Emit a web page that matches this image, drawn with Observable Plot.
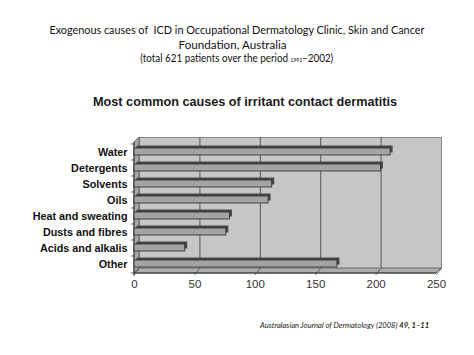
<!DOCTYPE html>
<html><head><meta charset="utf-8">
<script src="https://cdn.jsdelivr.net/npm/d3@7"></script>
<script src="https://cdn.jsdelivr.net/npm/@observablehq/plot@0.6"></script>
<style>
html,body{margin:0;padding:0;background:#fff;}
#wrap{position:relative;width:474px;height:355px;overflow:hidden;background:#fff;}
.t{position:absolute;white-space:nowrap;line-height:1;color:#111;transform-origin:50% 50%;}
#chart{position:absolute;left:0;top:120px;}
</style></head><body>
<div id="wrap">
  <div class="t fit" data-cx="237" data-cy="30" data-w="375" data-fs="12.2" style="font-family:Lato,'Open Sans',sans-serif;">Exogenous causes of&nbsp; ICD in Occupational Dermatology Clinic, Skin and Cancer</div>
  <div class="t fit" data-cx="233" data-cy="45.5" data-w="108" data-fs="12.2" style="font-family:Lato,'Open Sans',sans-serif;">Foundation, Australia</div>
  <div class="t fit" data-cx="236.5" data-cy="58" data-w="193" data-fs="10.6" style="font-family:Lato,'Open Sans',sans-serif;">(total 621 patients over the period <span style="font-size:0.5em">1993</span>–2002)</div>
  <div class="t fit" data-cx="245" data-cy="101" data-w="304" data-fs="13" style="font-family:'Liberation Sans',Arial,sans-serif;font-weight:bold;color:#1a1a1a;">Most common causes of irritant contact dermatitis</div>
  <div id="chart"></div>
  <div class="t fit" data-cx="344.5" data-cy="325.5" data-w="169" data-fs="7.6" style="font-family:Lato,'Open Sans',sans-serif;font-style:italic;color:#222;">Australasian Journal of Dermatology (2008) <b>49, 1–11</b></div>
</div>
<script>
const categories = ["Water", "Detergents", "Solvents", "Oils", "Heat and sweating", "Dusts and fibres", "Acids and alkalis", "Other"];
const counts = [212, 204, 114, 111, 79, 76, 42, 168];
const xTicks = [0, 50, 100, 150, 200, 250];
const gridValues = [50, 100, 150, 200];

const data = categories.map((c, i) => ({cause: c, count: counts[i]}));

function walls(index, scales, values, dim) {
  const x0 = scales.x(0), x1 = scales.x(250);
  const top = dim.marginTop, bot = dim.height - dim.marginBottom;
  const g = d3.create("svg:g");
  g.append("path")
    .attr("d", `M${x0},${top}L${x0 + 5},${top - 5}L${x0 + 5},${bot - 5}L${x0},${bot}Z`)
    .attr("fill", "#a8a8a8").attr("stroke", "#555").attr("stroke-width", 0.8);
  g.append("path")
    .attr("d", `M${x0},${bot}L${x1},${bot}L${x1 + 5},${bot - 5}L${x0 + 5},${bot - 5}Z`)
    .attr("fill", "#acacac").attr("stroke", "#555").attr("stroke-width", 0.8);
  g.append("line").attr("x1", x0).attr("x2", x1).attr("y1", bot).attr("y2", bot)
    .attr("stroke", "#333").attr("stroke-width", 1);
  g.append("line").attr("x1", x0).attr("x2", x0).attr("y1", top).attr("y2", bot + 3)
    .attr("stroke", "#333").attr("stroke-width", 1);
  xTicks.forEach(v => {
    const x = scales.x(v);
    g.append("line").attr("x1", x).attr("y1", bot + 2).attr("x2", x + 5).attr("y2", bot - 4)
      .attr("stroke", "#444").attr("stroke-width", 0.8);
  });
  const bounds = categories.map(c => scales.y(c)).concat([bot]);
  bounds.forEach(y => {
    g.append("line").attr("x1", x0 - 3).attr("x2", x0).attr("y1", y).attr("y2", y)
      .attr("stroke", "#333").attr("stroke-width", 0.8);
  });
  return g.node();
}

const chart = Plot.plot({
  width: 474,
  height: 180,
  marginTop: 22,
  marginBottom: 27,
  marginLeft: 134,
  marginRight: 38,
  style: {background: "transparent", overflow: "visible", fontFamily: "'Liberation Sans', Arial, sans-serif"},
  x: {domain: [0, 250], ticks: xTicks, tickSize: 0, tickPadding: 6, label: null},
  y: {domain: categories, padding: 0, tickSize: 0, tickPadding: 7, label: null},
  marks: [
    Plot.frame({fill: "#c6c6c6", stroke: "#8a8a8a", dx: 5, dy: -5}),
    walls,
    Plot.ruleX(gridValues, {dx: 5, dy: -5, stroke: "#555", strokeWidth: 1}),
    Plot.barX(data, {x: "count", y: "cause", dx: 2.5, dy: -2.5, fill: "#474747", insetTop: 4, insetBottom: 5}),
    Plot.barX(data, {x: "count", y: "cause", fill: "#a3a3a3", stroke: "#2a2a2a", strokeWidth: 0.8, insetTop: 4, insetBottom: 5})
  ]
});
document.getElementById("chart").appendChild(chart);

const svg = d3.select(chart);
svg.selectAll('g[aria-label^="x-axis"] text')
  .attr("font-size", 11.5).attr("fill", "#333").style("font-size", "11.5px");
svg.selectAll('g[aria-label^="y-axis"] text')
  .attr("font-size", 10.8).attr("font-weight", "bold").attr("fill", "#111")
  .style("font-size", "10.8px").style("font-weight", "bold");

function fitAll() {
  document.querySelectorAll(".fit").forEach(el => {
    const cx = +el.dataset.cx, cy = +el.dataset.cy, w = +el.dataset.w, fs = +el.dataset.fs;
    el.style.transform = "none";
    el.style.fontSize = fs + "px";
    const r = el.getBoundingClientRect();
    el.style.left = (cx - r.width / 2) + "px";
    el.style.top = (cy - r.height / 2) + "px";
    el.style.transform = `scaleX(${w / r.width})`;
  });
}
fitAll();
if (document.fonts && document.fonts.ready) document.fonts.ready.then(fitAll);
</script>
</body></html>
